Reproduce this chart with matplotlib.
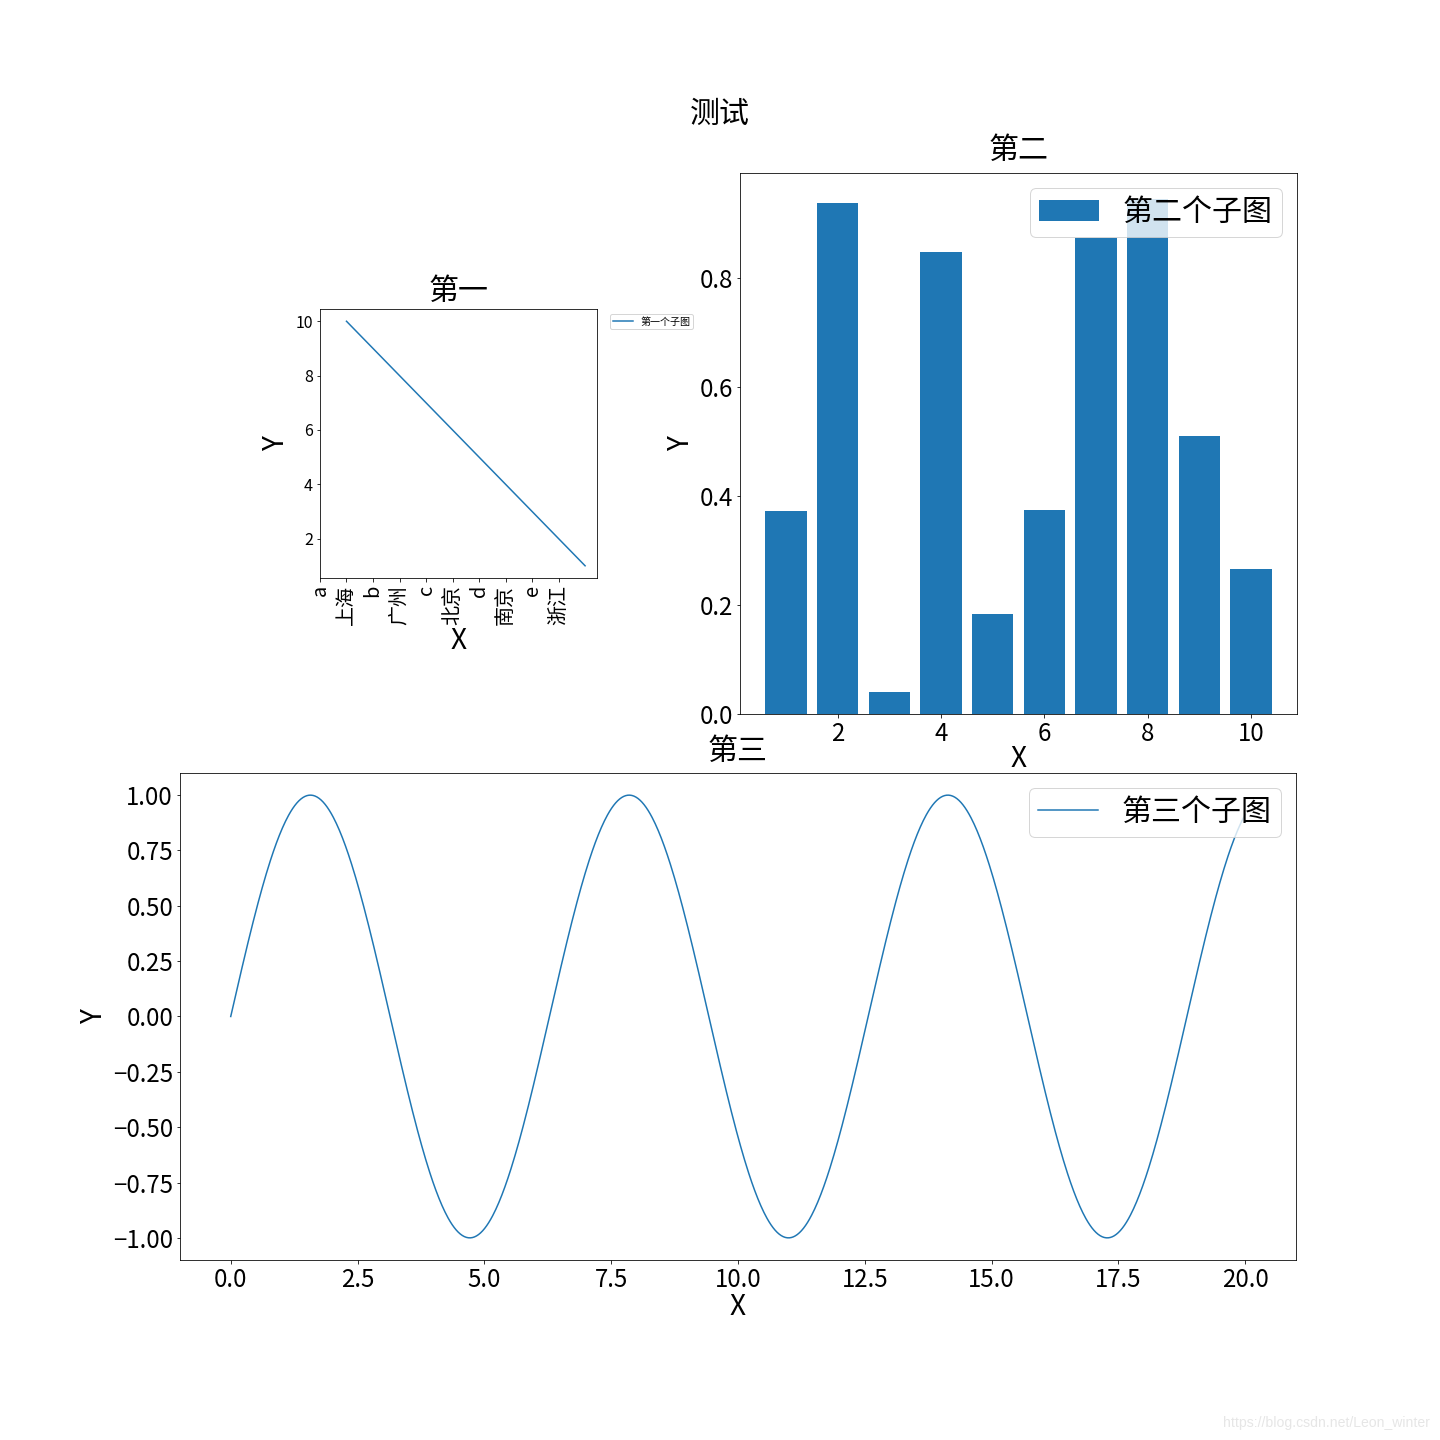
import matplotlib
matplotlib.use("Agg")
import matplotlib.pyplot as plt
import numpy as np

plt.rcParams['font.family'] = ['Noto Sans CJK SC', 'DejaVu Sans']

# data
line_x = [1, 2, 3, 4, 5, 6, 7, 8, 9, 10]
line_y = [10, 9, 8, 7, 6, 5, 4, 3, 2, 1]
tick_pos = [0, 1, 2, 3, 4, 5, 6, 7, 8, 9]
tick_labels = ['a', '上海', 'b', '广州', 'c', '北京', 'd', '南京', 'e', '浙江']

bar_x = [1, 2, 3, 4, 5, 6, 7, 8, 9, 10]
bar_h = [0.372, 0.938, 0.040, 0.848, 0.184, 0.374, 0.873, 0.945, 0.510, 0.266]

sin_x = np.linspace(0, 20, 1000)
sin_y = np.sin(sin_x)

fig = plt.figure(figsize=(20, 20), dpi=72)
fig.suptitle('测试', fontsize=30, y=0.931)

# first subplot
ax1 = fig.add_axes([0.2222, 0.5986, 0.1924, 0.1868])
ax1.plot(line_x, line_y, label='第一个子图')
ax1.set_xticks(tick_pos)
ax1.set_xticklabels(tick_labels, rotation=90, fontsize=20)
ax1.tick_params(axis='y', labelsize=16)
ax1.set_title('第一', fontsize=30, pad=9)
ax1.set_xlabel('X', fontsize=28, labelpad=1)
ax1.set_ylabel('Y', fontsize=28)
ax1.legend(loc='upper left', bbox_to_anchor=(1.03, 1.0), fontsize=10,
           borderpad=0.25)

# second subplot
ax2 = fig.add_axes([0.5139, 0.5042, 0.3868, 0.3757])
ax2.bar(bar_x, bar_h, label='第二个子图')
ax2.tick_params(labelsize=24)
ax2.set_title('第二', fontsize=30, pad=14)
ax2.set_xlabel('X', fontsize=28, labelpad=-3)
ax2.set_ylabel('Y', fontsize=28)
ax2.legend(loc='upper right', fontsize=30, borderpad=0.3)

# third subplot
ax3 = fig.add_axes([0.125, 0.125, 0.775, 0.3382])
ax3.plot(sin_x, sin_y, label='第三个子图')
ax3.tick_params(labelsize=24)
ax3.set_title('第三', fontsize=30, pad=13)
ax3.set_xlabel('X', fontsize=28, labelpad=-1)
ax3.set_ylabel('Y', fontsize=28)
ax3.legend(loc='upper right', fontsize=30, borderpad=0.3)

fig.text(0.993, 0.007, 'https://blog.csdn.net/Leon_winter', ha='right', va='bottom',
         fontsize=14, color='#e6e6e6', family='Liberation Sans')

fig.savefig('out.png', dpi=72)
